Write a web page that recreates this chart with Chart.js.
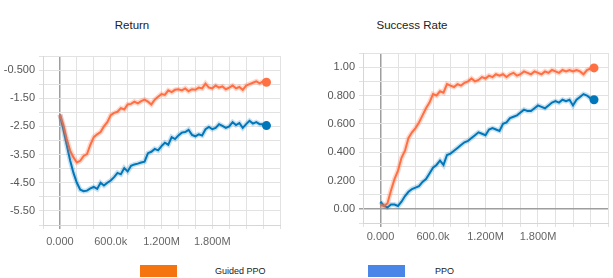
<!DOCTYPE html>
<html>
<head>
<meta charset="utf-8">
<script src="https://cdn.jsdelivr.net/npm/chart.js@4.4.1/dist/chart.umd.min.js"></script>
<style>
  body { margin: 0; width: 613px; height: 278px; background: #fff; position: relative; overflow: hidden;
         font-family: "Liberation Sans", Arial, sans-serif; }
  .box { position: absolute; }
  .title { position: absolute; top: 19px; font-size: 11.5px; color: #222; transform: translateX(-50%); white-space: nowrap; }
  .swatch { position: absolute; top: 265px; width: 37px; height: 12px; }
  .ltext { position: absolute; top: 265px; font-size: 9px; line-height: 12px; color: #222; }
</style>
</head>
<body>
<div class="title" style="left:132px">Return</div>
<div class="title" style="left:412px">Success Rate</div>

<div class="box" style="left:0;top:0"><canvas id="returnChart" width="300" height="255"></canvas></div>
<div class="box" style="left:310px;top:0"><canvas id="successChart" width="303" height="255"></canvas></div>

<div class="swatch" style="left:140px;background:#f57410"></div>
<div class="ltext" style="left:215px">Guided PPO</div>
<div class="swatch" style="left:368px;background:#4a86e8"></div>
<div class="ltext" style="left:435px">PPO</div>

<script>
// env steps, in millions
var steps = [0, 0.04, 0.08, 0.12, 0.16, 0.20, 0.24, 0.28, 0.32, 0.36, 0.40, 0.44, 0.48, 0.52, 0.56, 0.60,
  0.64, 0.68, 0.72, 0.76, 0.80, 0.84, 0.88, 0.92, 0.96, 1.00, 1.04, 1.08, 1.12, 1.16, 1.20, 1.24, 1.28,
  1.32, 1.36, 1.40, 1.44, 1.48, 1.52, 1.56, 1.60, 1.64, 1.68, 1.72, 1.76, 1.80, 1.84, 1.88, 1.92, 1.96,
  2.00, 2.04, 2.08, 2.12, 2.16, 2.20, 2.24, 2.28, 2.32, 2.36, 2.40, 2.44];

var returnGuided = [-2.08, -2.45, -2.95, -3.35, -3.6, -3.78, -3.72, -3.55, -3.48, -3.15, -2.88, -2.78, -2.7,
  -2.5, -2.35, -2.1, -2.02, -1.98, -1.85, -1.9, -1.72, -1.7, -1.62, -1.68, -1.6, -1.55, -1.62, -1.72, -1.55,
  -1.45, -1.35, -1.38, -1.22, -1.28, -1.2, -1.18, -1.22, -1.15, -1.25, -1.18, -1.2, -1.12, -1.15, -0.98,
  -1.12, -1.15, -1.05, -1.12, -1.08, -1.18, -1.12, -1.05, -1.15, -1.1, -1.2, -1.05, -1.0, -0.95, -0.9,
  -0.97, -0.9, -0.93];
var returnPPO = [-2.08, -2.6, -3.15, -3.7, -4.15, -4.5, -4.75, -4.8, -4.78, -4.7, -4.65, -4.72, -4.5, -4.6,
  -4.5, -4.42, -4.3, -4.15, -4.2, -3.98, -4.1, -3.9, -3.85, -3.82, -3.78, -3.75, -3.45, -3.4, -3.3, -3.35,
  -3.2, -3.08, -3.15, -2.88, -2.95, -2.82, -2.72, -2.7, -2.62, -2.8, -2.85, -2.78, -2.82, -2.6, -2.52, -2.6,
  -2.55, -2.42, -2.48, -2.55, -2.5, -2.35, -2.45, -2.38, -2.55, -2.42, -2.3, -2.4, -2.35, -2.42, -2.42, -2.47];

var successGuided = [0.03, 0.02, 0.04, 0.13, 0.21, 0.27, 0.36, 0.41, 0.5, 0.54, 0.57, 0.61, 0.66, 0.71, 0.75,
  0.81, 0.8, 0.83, 0.82, 0.88, 0.87, 0.86, 0.88, 0.87, 0.89, 0.9, 0.92, 0.9, 0.91, 0.93, 0.92, 0.94, 0.93,
  0.95, 0.94, 0.95, 0.93, 0.95, 0.96, 0.94, 0.95, 0.97, 0.96, 0.95, 0.97, 0.96, 0.95, 0.97, 0.96, 0.98, 0.97,
  0.96, 0.98, 0.97, 0.98, 0.97, 0.98, 0.97, 0.95, 0.98, 0.99, 0.995];
var successPPO = [0.05, 0.02, 0.01, 0.03, 0.03, 0.02, 0.05, 0.09, 0.12, 0.14, 0.15, 0.16, 0.19, 0.21, 0.25,
  0.29, 0.31, 0.34, 0.31, 0.38, 0.39, 0.41, 0.43, 0.45, 0.47, 0.48, 0.5, 0.52, 0.54, 0.53, 0.52, 0.56, 0.57,
  0.56, 0.55, 0.6, 0.61, 0.64, 0.65, 0.66, 0.68, 0.7, 0.69, 0.69, 0.71, 0.73, 0.72, 0.71, 0.73, 0.75, 0.76,
  0.75, 0.77, 0.76, 0.77, 0.73, 0.77, 0.79, 0.81, 0.8, 0.78, 0.77];

var xGrid = [-0.2, 0, 0.2, 0.4, 0.6, 0.8, 1.0, 1.2, 1.4, 1.6, 1.8, 2.0, 2.2, 2.4, 2.6];
var xLabelValues = [0, 0.6, 1.2, 1.8];
var xLabelText = ['0.000', '600.0k', '1.200M', '1.800M'];

var returnGrid = [-6, -5.5, -5, -4.5, -4, -3.5, -3, -2.5, -2, -1.5, -1, -0.5, 0];
var returnLabelValues = [-0.5, -1.5, -2.5, -3.5, -4.5, -5.5];
var returnLabelText = ['-0.500', '-1.50', '-2.50', '-3.50', '-4.50', '-5.50'];

var successGrid = [-0.1, 0, 0.1, 0.2, 0.3, 0.4, 0.5, 0.6, 0.7, 0.8, 0.9, 1.0, 1.1];
var successLabelValues = [0, 0.2, 0.4, 0.6, 0.8, 1.0];
var successLabelText = ['0.00', '0.200', '0.400', '0.600', '0.800', '1.00'];

var ORANGE = '#ff7043';
var BLUE = '#0077bb';

function pts(vals) {
  return steps.map(function (s, i) { return { x: s, y: vals[i] }; });
}

function labelFor(v, values, texts) {
  for (var i = 0; i < values.length; i++) {
    if (Math.abs(values[i] - v) < 1e-6) return texts[i];
  }
  return '';
}

function lastDot(c) {
  return c.dataIndex === steps.length - 1 ? 4.5 : 0;
}

function makeChart(id, guided, ppo, yGrid, yVals, yText, o) {
  var ctx = document.getElementById(id).getContext('2d');
  return new Chart(ctx, {
    type: 'line',
    data: {
      datasets: [
        { data: pts(guided), borderColor: 'rgba(255,112,67,0.28)', borderWidth: 5, pointRadius: 0 },
        { data: pts(ppo), borderColor: 'rgba(0,119,187,0.22)', borderWidth: 5, pointRadius: 0 },
        { label: 'Guided PPO', data: pts(guided), borderColor: ORANGE, backgroundColor: ORANGE,
          borderWidth: 2, pointRadius: lastDot, pointBorderWidth: 0 },
        { label: 'PPO', data: pts(ppo), borderColor: BLUE, backgroundColor: BLUE,
          borderWidth: 2, pointRadius: lastDot, pointBorderWidth: 0 }
      ]
    },
    options: {
      responsive: false,
      animation: false,
      layout: { padding: { top: o.top, right: o.right, left: 0, bottom: 0 } },
      plugins: { legend: { display: false }, tooltip: { enabled: false } },
      elements: { line: { tension: 0 } },
      scales: {
        x: {
          type: 'linear', min: -0.2, max: 2.6,
          afterBuildTicks: function (s) { s.ticks = xGrid.map(function (v) { return { value: v }; }); },
          afterFit: function (s) { s.height = o.xh; },
          grid: {
            tickLength: 4,
            color: function (c) { return c.tick && Math.abs(c.tick.value) < 1e-6 ? '#9e9e9e' : '#e2e2e2'; },
            lineWidth: function (c) { return c.tick && Math.abs(c.tick.value) < 1e-6 ? 1.5 : 1; }
          },
          border: { color: '#d6d6d6' },
          ticks: {
            autoSkip: false, maxRotation: 0, padding: o.xpad, color: '#666',
            font: { size: 11, family: 'Liberation Sans' },
            callback: function (v) { return labelFor(v, xLabelValues, xLabelText); }
          }
        },
        y: {
          min: yGrid[0], max: yGrid[yGrid.length - 1],
          afterBuildTicks: function (s) { s.ticks = yGrid.map(function (v) { return { value: v }; }); },
          afterFit: function (s) { s.width = o.yw; },
          grid: {
            tickLength: 4,
            color: function (c) { return o.zeroY && c.tick && Math.abs(c.tick.value) < 1e-6 ? '#9e9e9e' : '#e2e2e2'; },
            lineWidth: function (c) { return o.zeroY && c.tick && Math.abs(c.tick.value) < 1e-6 ? 1.5 : 1; }
          },
          border: { color: '#d6d6d6' },
          ticks: {
            autoSkip: false, padding: 4, color: '#555',
            font: { size: 11, family: 'Liberation Sans' },
            callback: function (v) { return labelFor(v, yVals, yText); }
          }
        }
      }
    }
  });
}

makeChart('returnChart', returnGuided, returnPPO, returnGrid, returnLabelValues, returnLabelText,
  { top: 56, right: 20, xh: 30, yw: 43, xpad: 6, zeroY: false });
makeChart('successChart', successGuided, successPPO, successGrid, successLabelValues, successLabelText,
  { top: 53, right: 5, xh: 32, yw: 53, xpad: 3, zeroY: true });
</script>
</body>
</html>
